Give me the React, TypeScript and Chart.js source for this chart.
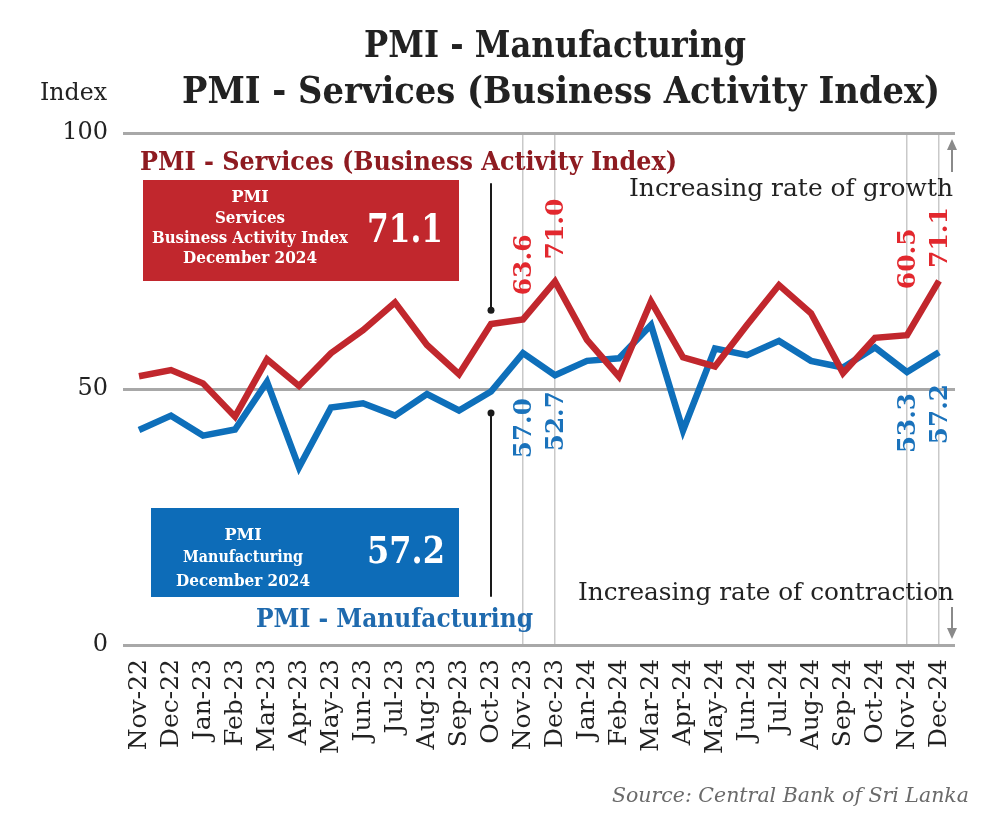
import React, { useEffect, useRef } from "react";
import { Chart, registerables } from "chart.js";

Chart.register(...registerables);

const months = [
  "Nov-22", "Dec-22", "Jan-23", "Feb-23", "Mar-23", "Apr-23", "May-23", "Jun-23",
  "Jul-23", "Aug-23", "Sep-23", "Oct-23", "Nov-23", "Dec-23", "Jan-24", "Feb-24",
  "Mar-24", "Apr-24", "May-24", "Jun-24", "Jul-24", "Aug-24", "Sep-24", "Oct-24",
  "Nov-24", "Dec-24",
];

const servicesValues = [
  52.5, 53.7, 51.1, 44.6, 55.8, 50.6, 57.0, 61.5, 66.9, 58.6, 52.9, 62.7, 63.6,
  71.0, 59.6, 52.4, 67.1, 56.2, 54.4, 62.5, 70.3, 64.8, 53.1, 60.0, 60.5, 71.1,
];

const manufacturingValues = [
  42.0, 44.8, 40.9, 42.1, 51.4, 34.7, 46.4, 47.2, 44.8, 49.0, 45.8, 49.5, 57.0,
  52.7, 55.5, 56.0, 62.5, 41.9, 57.9, 56.6, 59.4, 55.5, 54.2, 58.1, 53.3, 57.2,
];

const yTicks = [0, 50, 100];
const highlightedMonths = ["Nov-23", "Dec-23", "Nov-24", "Dec-24"];

const SERIF = '"DejaVu Serif", "Liberation Serif", serif';
const RED_LINE = "#c1272d";
const BLUE_LINE = "#0e6fba";
const RED_LABEL = "#e2282e";
const BLUE_LABEL = "#1a72bb";

// pixel offsets of value labels from their points (layout only)
const redLabelGap: Record<string, number> = { "Nov-23": 24, "Dec-23": 22, "Nov-24": 46, "Dec-24": 13 };
const blueLabelGap: Record<string, number> = { "Nov-23": 45, "Dec-23": 16, "Nov-24": 21, "Dec-24": 32 };

function txt(
  ctx: CanvasRenderingContext2D,
  s: string,
  x: number,
  y: number,
  font: string,
  color: string,
  align: CanvasTextAlign,
  maxW?: number
) {
  ctx.font = font;
  ctx.fillStyle = color;
  ctx.textAlign = align;
  ctx.textBaseline = "alphabetic";
  if (maxW) ctx.fillText(s, x, y, maxW);
  else ctx.fillText(s, x, y);
}

function arrow(ctx: CanvasRenderingContext2D, x: number, y1: number, y2: number) {
  ctx.save();
  ctx.strokeStyle = "#8a8a8a";
  ctx.fillStyle = "#8a8a8a";
  ctx.lineWidth = 2;
  ctx.beginPath();
  ctx.moveTo(x, y1);
  ctx.lineTo(x, y2);
  ctx.stroke();
  const dir = y2 > y1 ? 1 : -1;
  ctx.beginPath();
  ctx.moveTo(x, y2 + dir * 2);
  ctx.lineTo(x - 5, y2 - dir * 9);
  ctx.lineTo(x + 5, y2 - dir * 9);
  ctx.closePath();
  ctx.fill();
  ctx.restore();
}

const annotationPlugin = {
  id: "pmiAnnotations",
  afterDraw(chart: any) {
    const ctx: CanvasRenderingContext2D = chart.ctx;
    const xs = chart.scales.x;
    const ys = chart.scales.y;
    ctx.save();

    // Titles
    txt(ctx, "PMI - Manufacturing", 555, 57, `bold 37px ${SERIF}`, "#222", "center", 382);
    txt(ctx, "PMI - Services (Business Activity Index)", 561, 103, `bold 37px ${SERIF}`, "#222", "center", 758);
    txt(ctx, "Index", 40, 100, `24px ${SERIF}`, "#222", "left", 67);

    // Series headers
    txt(ctx, "PMI - Services (Business Activity Index)", 140, 170, `bold 26px ${SERIF}`, "#8e1b21", "left", 537);
    txt(ctx, "PMI - Manufacturing", 256, 627, `bold 26px ${SERIF}`, "#1f6aae", "left", 277);

    // Growth / contraction notes
    txt(ctx, "Increasing rate of growth", 953, 196, `25px ${SERIF}`, "#222", "right", 324);
    txt(ctx, "Increasing rate of contraction", 954, 600, `25px ${SERIF}`, "#222", "right", 376);
    arrow(ctx, 952, 172, 141);
    arrow(ctx, 952, 607, 637);

    // Services box
    ctx.fillStyle = "#c1272d";
    ctx.fillRect(143, 180, 316, 101);
    const wb = `bold 16px ${SERIF}`;
    txt(ctx, "PMI", 250, 202, wb, "#fff", "center");
    txt(ctx, "Services", 250, 223, wb, "#fff", "center", 70);
    txt(ctx, "Business Activity Index", 250, 243, wb, "#fff", "center", 196);
    txt(ctx, "December 2024", 250, 263, wb, "#fff", "center", 134);
    txt(ctx, servicesValues[servicesValues.length - 1].toFixed(1), 405, 242, `bold 40px ${SERIF}`, "#fff", "center", 76);

    // Manufacturing box
    ctx.fillStyle = "#0d6cb8";
    ctx.fillRect(151, 508, 308, 89);
    txt(ctx, "PMI", 243, 540, wb, "#fff", "center");
    txt(ctx, "Manufacturing", 243, 562, wb, "#fff", "center", 120);
    txt(ctx, "December 2024", 243, 586, wb, "#fff", "center", 134);
    txt(ctx, manufacturingValues[manufacturingValues.length - 1].toFixed(1), 406, 563, `bold 38px ${SERIF}`, "#fff", "center", 78);

    // Leader lines at Oct-23
    const lx = xs.getPixelForValue(months.indexOf("Oct-23"));
    ctx.strokeStyle = "#1a1a1a";
    ctx.fillStyle = "#1a1a1a";
    ctx.lineWidth = 2;
    ctx.beginPath();
    ctx.moveTo(lx, ys.getPixelForValue(90.2));
    ctx.lineTo(lx, ys.getPixelForValue(65.4));
    ctx.moveTo(lx, ys.getPixelForValue(45.3));
    ctx.lineTo(lx, ys.getPixelForValue(9.4));
    ctx.stroke();
    for (const v of [65.4, 45.3]) {
      ctx.beginPath();
      ctx.arc(lx, ys.getPixelForValue(v), 3.5, 0, Math.PI * 2);
      ctx.fill();
    }

    // Value labels (rotated)
    const lf = `bold 25px ${SERIF}`;
    for (const m of highlightedMonths) {
      const i = months.indexOf(m);
      const x = xs.getPixelForValue(i);
      const ry = ys.getPixelForValue(servicesValues[i]) - redLabelGap[m];
      ctx.save();
      ctx.translate(x, ry);
      ctx.rotate(-Math.PI / 2);
      ctx.font = lf;
      ctx.fillStyle = RED_LABEL;
      ctx.textAlign = "left";
      ctx.textBaseline = "middle";
      ctx.fillText(servicesValues[i].toFixed(1), 0, 1, 62);
      ctx.restore();

      const by = ys.getPixelForValue(manufacturingValues[i]) + blueLabelGap[m];
      ctx.save();
      ctx.translate(x, by);
      ctx.rotate(-Math.PI / 2);
      ctx.font = lf;
      ctx.fillStyle = BLUE_LABEL;
      ctx.textAlign = "right";
      ctx.textBaseline = "middle";
      ctx.fillText(manufacturingValues[i].toFixed(1), 0, 1, 60);
      ctx.restore();
    }

    // Source
    txt(ctx, "Source: Central Bank of Sri Lanka", 969, 802, `italic 21px ${SERIF}`, "#6a6a6a", "right", 357);

    ctx.restore();
  },
};

export default function App() {
  const canvasRef = useRef<HTMLCanvasElement | null>(null);

  useEffect(() => {
    if (!canvasRef.current) return;
    const chart = new Chart(canvasRef.current, {
      type: "line",
      data: {
        labels: months,
        datasets: [
          {
            label: "PMI - Services (Business Activity Index)",
            data: servicesValues,
            borderColor: RED_LINE,
            backgroundColor: RED_LINE,
            borderWidth: 6.5,
            pointRadius: 0,
            tension: 0,
            borderJoinStyle: "miter",
            order: 0,
          },
          {
            label: "PMI - Manufacturing",
            data: manufacturingValues,
            borderColor: BLUE_LINE,
            backgroundColor: BLUE_LINE,
            borderWidth: 6.5,
            pointRadius: 0,
            tension: 0,
            borderJoinStyle: "miter",
            order: 1,
          },
        ],
      },
      options: {
        responsive: false,
        animation: false,
        layout: { padding: { top: 133, right: 45, left: 0, bottom: 0 } },
        plugins: {
          legend: { display: false },
          title: { display: false },
          tooltip: { enabled: false },
        },
        scales: {
          x: {
            type: "category",
            offset: true,
            border: { display: false },
            grid: {
              offset: false,
              drawTicks: false,
              lineWidth: 1.5,
              color: (c: any) =>
                highlightedMonths.includes(months[c.index]) ? "#c9c9c9" : "rgba(0,0,0,0)",
            },
            ticks: {
              autoSkip: false,
              minRotation: 90,
              maxRotation: 90,
              padding: 14,
              color: "#222",
              font: { family: SERIF, size: 25 },
            },
            afterFit: (scale: any) => {
              scale.height = 189;
            },
          },
          y: {
            min: 0,
            max: 100,
            border: { display: false },
            afterBuildTicks: (scale: any) => {
              scale.ticks = yTicks.map((v) => ({ value: v }));
            },
            grid: {
              drawTicks: false,
              color: "#a8a8a8",
              lineWidth: 3,
            },
            ticks: {
              padding: 15,
              color: "#222",
              font: { family: SERIF, size: 24 },
            },
            afterFit: (scale: any) => {
              scale.width = 123;
            },
          },
        },
      },
      plugins: [annotationPlugin],
    });
    return () => chart.destroy();
  }, []);

  return (
    <div style={{ position: "absolute", left: 0, top: 0, width: 1000, height: 834, background: "#fff" }}>
      <canvas ref={canvasRef} width={1000} height={834} style={{ width: 1000, height: 834, display: "block" }} />
    </div>
  );
}
